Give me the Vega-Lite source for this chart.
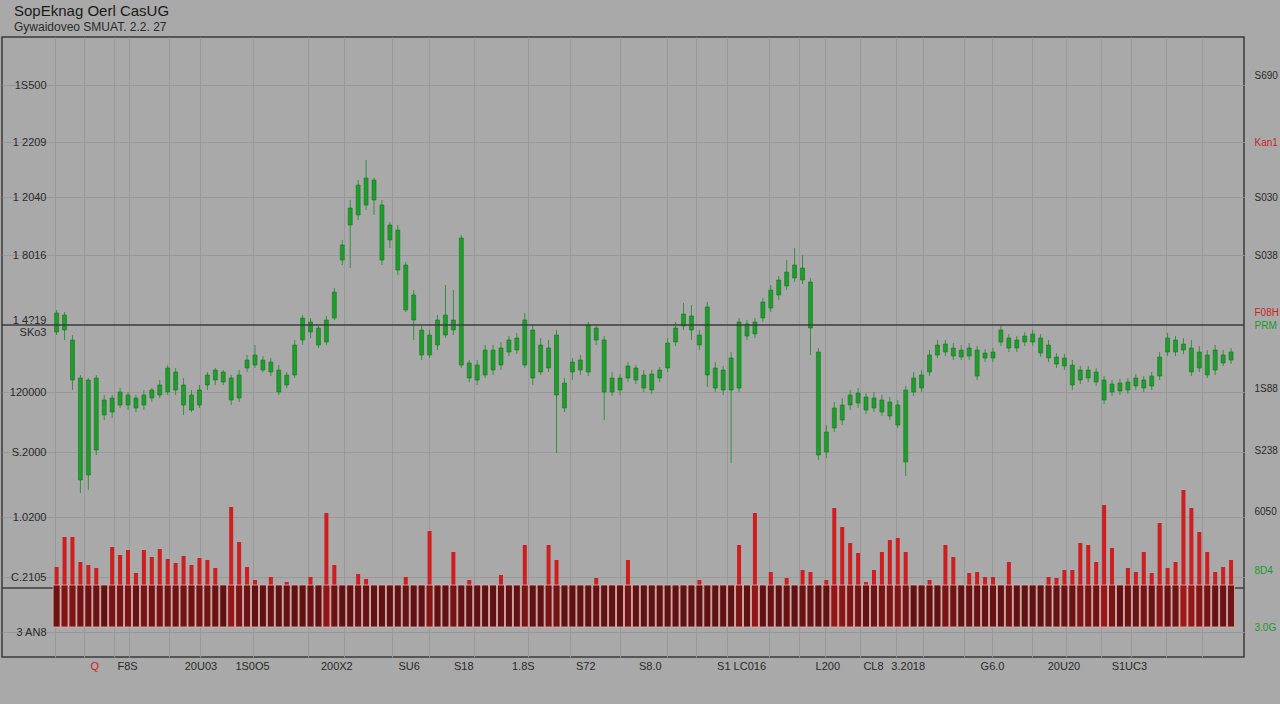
{
  "$schema": "https://vega.github.io/schema/vega-lite/v6.json",
  "width": 1242,
  "height": 620,
  "autosize": "none",
  "padding": {"left": 2, "top": 37, "right": 36, "bottom": 47},
  "background": "#a9a9a9",
  "title": {"text": "SopEknag Oerl CasUG", "subtitle": "Gywaidoveo SMUAT. 2.2. 27", "anchor": "start", "frame": "group", "dx": 12, "offset": 4, "fontSize": 15, "font": "Liberation Sans", "fontWeight": "normal", "color": "#1a1a1a", "subtitleFontSize": 12, "subtitleFont": "Liberation Sans", "subtitleColor": "#2a2a2a", "subtitlePadding": 3},
  "config": {"view": {"stroke": "#3a3a3a", "strokeWidth": 1.5}, "axis": {"labelFont": "Liberation Sans", "labelFontSize": 11, "labelColor": "#2a2a2a", "gridColor": "#999999", "gridWidth": 1}},
  "datasets": {
    "candles": [
      {"i":0,"o":325,"c":344,"h":347,"l":322,"v":60},
      {"i":1,"o":327,"c":342,"h":345,"l":317,"v":90},
      {"i":2,"o":277,"c":317,"h":322,"l":267,"v":90},
      {"i":3,"o":177,"c":279,"h":282,"l":164,"v":65},
      {"i":4,"o":182,"c":277,"h":279,"l":167,"v":62},
      {"i":5,"o":207,"c":279,"h":282,"l":202,"v":59},
      {"i":6,"o":242,"c":257,"h":262,"l":237,"v":42},
      {"i":7,"o":245,"c":259,"h":262,"l":239,"v":80},
      {"i":8,"o":252,"c":265,"h":269,"l":249,"v":72},
      {"i":9,"o":252,"c":262,"h":265,"l":247,"v":77},
      {"i":10,"o":249,"c":259,"h":262,"l":245,"v":54},
      {"i":11,"o":252,"c":262,"h":267,"l":247,"v":77},
      {"i":12,"o":259,"c":267,"h":269,"l":255,"v":70},
      {"i":13,"o":262,"c":272,"h":277,"l":259,"v":78},
      {"i":14,"o":265,"c":289,"h":292,"l":262,"v":68},
      {"i":15,"o":267,"c":285,"h":289,"l":262,"v":64},
      {"i":16,"o":252,"c":272,"h":279,"l":242,"v":71},
      {"i":17,"o":247,"c":262,"h":267,"l":245,"v":62},
      {"i":18,"o":252,"c":267,"h":272,"l":249,"v":69},
      {"i":19,"o":272,"c":282,"h":285,"l":267,"v":67},
      {"i":20,"o":277,"c":287,"h":289,"l":272,"v":59},
      {"i":21,"o":275,"c":285,"h":287,"l":272,"v":42},
      {"i":22,"o":257,"c":279,"h":282,"l":252,"v":120},
      {"i":23,"o":259,"c":282,"h":287,"l":255,"v":85},
      {"i":24,"o":289,"c":297,"h":302,"l":285,"v":60},
      {"i":25,"o":292,"c":302,"h":312,"l":289,"v":47},
      {"i":26,"o":287,"c":297,"h":301,"l":285,"v":42},
      {"i":27,"o":285,"c":295,"h":299,"l":281,"v":50},
      {"i":28,"o":265,"c":287,"h":292,"l":262,"v":42},
      {"i":29,"o":272,"c":282,"h":285,"l":269,"v":45},
      {"i":30,"o":282,"c":312,"h":317,"l":279,"v":42},
      {"i":31,"o":317,"c":339,"h":342,"l":312,"v":42},
      {"i":32,"o":325,"c":335,"h":339,"l":319,"v":50},
      {"i":33,"o":312,"c":329,"h":332,"l":309,"v":42},
      {"i":34,"o":315,"c":337,"h":341,"l":312,"v":114},
      {"i":35,"o":339,"c":365,"h":369,"l":337,"v":62},
      {"i":36,"o":397,"c":412,"h":417,"l":392,"v":42},
      {"i":37,"o":432,"c":449,"h":457,"l":389,"v":42},
      {"i":38,"o":442,"c":472,"h":477,"l":437,"v":53},
      {"i":39,"o":452,"c":479,"h":497,"l":447,"v":48},
      {"i":40,"o":457,"c":477,"h":479,"l":442,"v":42},
      {"i":41,"o":397,"c":452,"h":457,"l":392,"v":42},
      {"i":42,"o":417,"c":432,"h":435,"l":409,"v":42},
      {"i":43,"o":387,"c":427,"h":432,"l":382,"v":42},
      {"i":44,"o":347,"c":392,"h":395,"l":345,"v":50},
      {"i":45,"o":337,"c":362,"h":367,"l":317,"v":42},
      {"i":46,"o":302,"c":327,"h":332,"l":297,"v":42},
      {"i":47,"o":302,"c":322,"h":327,"l":299,"v":96},
      {"i":48,"o":312,"c":337,"h":342,"l":307,"v":42},
      {"i":49,"o":322,"c":342,"h":372,"l":319,"v":42},
      {"i":50,"o":327,"c":337,"h":367,"l":322,"v":75},
      {"i":51,"o":292,"c":419,"h":422,"l":289,"v":42},
      {"i":52,"o":279,"c":294,"h":297,"l":275,"v":47},
      {"i":53,"o":277,"c":292,"h":297,"l":272,"v":42},
      {"i":54,"o":282,"c":307,"h":312,"l":279,"v":42},
      {"i":55,"o":287,"c":307,"h":312,"l":282,"v":42},
      {"i":56,"o":292,"c":309,"h":315,"l":287,"v":52},
      {"i":57,"o":305,"c":317,"h":321,"l":301,"v":42},
      {"i":58,"o":307,"c":319,"h":324,"l":303,"v":42},
      {"i":59,"o":292,"c":337,"h":344,"l":289,"v":82},
      {"i":60,"o":279,"c":327,"h":332,"l":272,"v":42},
      {"i":61,"o":285,"c":312,"h":319,"l":282,"v":42},
      {"i":62,"o":289,"c":309,"h":317,"l":285,"v":82},
      {"i":63,"o":262,"c":322,"h":327,"l":204,"v":67},
      {"i":64,"o":249,"c":274,"h":279,"l":245,"v":42},
      {"i":65,"o":285,"c":295,"h":299,"l":277,"v":42},
      {"i":66,"o":287,"c":297,"h":302,"l":282,"v":42},
      {"i":67,"o":285,"c":332,"h":335,"l":281,"v":42},
      {"i":68,"o":317,"c":329,"h":332,"l":312,"v":49},
      {"i":69,"o":265,"c":317,"h":321,"l":237,"v":42},
      {"i":70,"o":265,"c":279,"h":285,"l":261,"v":42},
      {"i":71,"o":267,"c":279,"h":283,"l":262,"v":42},
      {"i":72,"o":279,"c":291,"h":295,"l":275,"v":67},
      {"i":73,"o":277,"c":289,"h":292,"l":273,"v":42},
      {"i":74,"o":269,"c":282,"h":287,"l":265,"v":42},
      {"i":75,"o":267,"c":283,"h":287,"l":263,"v":42},
      {"i":76,"o":279,"c":287,"h":290,"l":275,"v":42},
      {"i":77,"o":289,"c":314,"h":319,"l":285,"v":42},
      {"i":78,"o":315,"c":329,"h":335,"l":311,"v":42},
      {"i":79,"o":331,"c":343,"h":354,"l":327,"v":42},
      {"i":80,"o":327,"c":341,"h":352,"l":317,"v":42},
      {"i":81,"o":312,"c":322,"h":327,"l":307,"v":47},
      {"i":82,"o":282,"c":350,"h":355,"l":270,"v":42},
      {"i":83,"o":269,"c":289,"h":295,"l":265,"v":42},
      {"i":84,"o":267,"c":287,"h":291,"l":262,"v":42},
      {"i":85,"o":267,"c":299,"h":305,"l":194,"v":42},
      {"i":86,"o":269,"c":335,"h":339,"l":265,"v":82},
      {"i":87,"o":321,"c":333,"h":337,"l":317,"v":42},
      {"i":88,"o":323,"c":335,"h":339,"l":319,"v":114},
      {"i":89,"o":339,"c":355,"h":359,"l":335,"v":42},
      {"i":90,"o":349,"c":367,"h":372,"l":345,"v":55},
      {"i":91,"o":362,"c":377,"h":381,"l":357,"v":42},
      {"i":92,"o":371,"c":385,"h":397,"l":367,"v":49},
      {"i":93,"o":379,"c":392,"h":409,"l":375,"v":42},
      {"i":94,"o":377,"c":389,"h":402,"l":373,"v":57},
      {"i":95,"o":329,"c":375,"h":379,"l":302,"v":55},
      {"i":96,"o":202,"c":305,"h":309,"l":197,"v":42},
      {"i":97,"o":205,"c":225,"h":232,"l":199,"v":47},
      {"i":98,"o":229,"c":249,"h":255,"l":225,"v":119},
      {"i":99,"o":237,"c":252,"h":259,"l":232,"v":100},
      {"i":100,"o":252,"c":262,"h":267,"l":247,"v":84},
      {"i":101,"o":254,"c":264,"h":269,"l":249,"v":74},
      {"i":102,"o":247,"c":260,"h":264,"l":243,"v":45},
      {"i":103,"o":249,"c":259,"h":265,"l":245,"v":57},
      {"i":104,"o":245,"c":257,"h":262,"l":241,"v":75},
      {"i":105,"o":241,"c":255,"h":260,"l":237,"v":87},
      {"i":106,"o":232,"c":252,"h":257,"l":229,"v":89},
      {"i":107,"o":195,"c":267,"h":271,"l":181,"v":75},
      {"i":108,"o":265,"c":279,"h":285,"l":261,"v":42},
      {"i":109,"o":269,"c":282,"h":287,"l":265,"v":42},
      {"i":110,"o":285,"c":302,"h":307,"l":281,"v":47},
      {"i":111,"o":302,"c":312,"h":317,"l":299,"v":42},
      {"i":112,"o":305,"c":313,"h":317,"l":301,"v":82},
      {"i":113,"o":301,"c":309,"h":314,"l":297,"v":70},
      {"i":114,"o":300,"c":307,"h":312,"l":297,"v":42},
      {"i":115,"o":301,"c":309,"h":314,"l":297,"v":54},
      {"i":116,"o":281,"c":307,"h":311,"l":277,"v":55},
      {"i":117,"o":299,"c":304,"h":308,"l":295,"v":50},
      {"i":118,"o":299,"c":305,"h":309,"l":295,"v":50},
      {"i":119,"o":315,"c":327,"h":332,"l":311,"v":42},
      {"i":120,"o":309,"c":319,"h":323,"l":305,"v":65},
      {"i":121,"o":309,"c":317,"h":321,"l":305,"v":42},
      {"i":122,"o":315,"c":321,"h":325,"l":311,"v":42},
      {"i":123,"o":315,"c":323,"h":327,"l":311,"v":42},
      {"i":124,"o":304,"c":319,"h":323,"l":300,"v":42},
      {"i":125,"o":299,"c":312,"h":317,"l":295,"v":50},
      {"i":126,"o":293,"c":300,"h":304,"l":289,"v":49},
      {"i":127,"o":291,"c":299,"h":303,"l":287,"v":57},
      {"i":128,"o":272,"c":292,"h":297,"l":267,"v":57},
      {"i":129,"o":277,"c":287,"h":291,"l":273,"v":84},
      {"i":130,"o":279,"c":287,"h":291,"l":275,"v":82},
      {"i":131,"o":275,"c":285,"h":289,"l":271,"v":65},
      {"i":132,"o":257,"c":277,"h":281,"l":253,"v":122},
      {"i":133,"o":265,"c":273,"h":277,"l":261,"v":79},
      {"i":134,"o":266,"c":274,"h":278,"l":262,"v":42},
      {"i":135,"o":267,"c":275,"h":279,"l":263,"v":59},
      {"i":136,"o":271,"c":279,"h":283,"l":267,"v":55},
      {"i":137,"o":269,"c":277,"h":281,"l":265,"v":75},
      {"i":138,"o":271,"c":281,"h":285,"l":267,"v":54},
      {"i":139,"o":281,"c":300,"h":305,"l":277,"v":104},
      {"i":140,"o":305,"c":319,"h":324,"l":301,"v":59},
      {"i":141,"o":305,"c":317,"h":321,"l":301,"v":65},
      {"i":142,"o":307,"c":313,"h":319,"l":303,"v":137},
      {"i":143,"o":285,"c":309,"h":317,"l":281,"v":119},
      {"i":144,"o":289,"c":305,"h":311,"l":285,"v":95},
      {"i":145,"o":282,"c":302,"h":307,"l":279,"v":75},
      {"i":146,"o":287,"c":307,"h":312,"l":282,"v":55},
      {"i":147,"o":294,"c":302,"h":307,"l":291,"v":60},
      {"i":148,"o":297,"c":305,"h":309,"l":293,"v":67}
    ]
  },
  "layer": [
    {
      "layer": [
        {
          "data": {"name": "candles"},
          "mark": {"type": "rule", "color": "#3a8e40", "strokeWidth": 1},
          "encoding": {
            "x": {"field": "i", "type": "quantitative", "scale": {"domain": [-6.25, 149], "nice": false, "zero": false},
              "axis": {"title": null, "grid": false, "ticks": false, "domain": false, "labelPadding": 3, "labelFlush": false, "labelOverlap": false,
                "values": [4.75, 8.875, 18.125, 24.625, 35.25, 44.375, 51.25, 58.75, 66.625, 74.75, 86.25, 97.125, 102.875, 107.25, 117.875, 126.875, 135.125],
                "labelExpr": "['Q','F8S','20U03','1S0O5','200X2','SU6','S18','1.8S','S72','S8.0','S1 LC016','L200','CL8','3.2018','G6.0','20U20','S1UC3'][indexof([4.75, 8.875, 18.125, 24.625, 35.25, 44.375, 51.25, 58.75, 66.625, 74.75, 86.25, 97.125, 102.875, 107.25, 117.875, 126.875, 135.125], datum.value)]",
                "labelColor": {"condition": {"test": "datum.value == 4.75", "value": "#d02020"}, "value": "#2a2a2a"}}},
            "y": {"field": "l", "type": "quantitative", "scale": {"domain": [0, 620], "nice": false, "zero": false},
              "axis": {"title": null, "grid": true, "ticks": false, "domain": false, "labelPadding": -44, "labelAlign": "right", "labelOverlap": false, "labelFlush": false,
                "values": [572, 515, 460, 402, 337, 325, 265, 205, 140, 80, 25],
                "labelExpr": "['1S500','1 2209','1 2040','1 8016','1 4?19','SKo3','120000','S.2000','1.0200','C.2105','3 AN8'][indexof([572, 515, 460, 402, 337, 325, 265, 205, 140, 80, 25], datum.value)]",
                "gridColor": {"condition": {"test": "datum.value == 337 || datum.value == 325", "value": "transparent"}, "value": "#999999"}}},
            "y2": {"field": "h"}
          }
        },
        {
          "data": {"name": "candles"},
          "mark": {"type": "bar", "width": 4, "color": "#1f9c2b", "stroke": "#137a1e", "strokeWidth": 0.6},
          "encoding": {
            "x": {"field": "i", "type": "quantitative"},
            "y": {"field": "o", "type": "quantitative"},
            "y2": {"field": "c"}
          }
        },
        {
          "data": {"values": [{"p": 332}, {"p": 69}]},
          "mark": {"type": "rule", "color": "#3d3d3d", "strokeWidth": 1.5},
          "encoding": {
            "y": {"field": "p", "type": "quantitative"}
          }
        }
      ]
    },
    {
      "data": {"name": "candles"},
      "layer": [
        {
          "mark": {"type": "bar", "width": 4, "color": "#d01e1e"},
          "encoding": {
            "x": {"field": "i", "type": "quantitative", "scale": {"domain": [-6.25, 149], "nice": false, "zero": false},
              "axis": {"orient": "top", "title": null, "grid": true, "labels": false, "ticks": false, "domain": false,
                "values": [-0.25, 3.5, 7.25, 9.125, 14.125, 18.125, 24.75, 31.625, 36.25, 42.25, 46.875, 52.625, 59.375, 64.75, 71, 76.875, 80.625, 84.5, 89.75, 93.5, 96.875, 101.25, 105.75, 109.125, 114.375, 117.875, 122.875, 127.25, 131.625, 135.375, 139.75, 144.375]}},
            "y": {"field": "v", "type": "quantitative", "scale": {"domain": [-30, 590], "nice": false, "zero": false},
              "axis": {"orient": "right", "title": null, "grid": false, "ticks": false, "domain": false, "labelPadding": 10, "labelAlign": "left", "labelOverlap": false, "labelFlush": false, "labelFontSize": 10,
                "values": [552, 485, 430, 372, 315, 302, 239, 177, 116, 57, 0],
                "labelExpr": "['S690','Kan1','S030','S038','F08H','PRM','1S88','S238','6050','8D4','3.0G'][indexof([552, 485, 430, 372, 315, 302, 239, 177, 116, 57, 0], datum.value)]",
                "labelColor": {"condition": [{"test": "datum.value == 485 || datum.value == 315", "value": "#cc1f1f"}, {"test": "datum.value == 302 || datum.value == 57 || datum.value == 0", "value": "#1a9a2a"}], "value": "#2a2a2a"}}},
            "y2": {"datum": 0}
          }
        },
        {
          "mark": {"type": "bar", "width": 7, "stroke": "#e2b4b4", "strokeWidth": 0.8},
          "encoding": {
            "x": {"field": "i", "type": "quantitative"},
            "y": {"datum": 42},
            "y2": {"datum": 0},
            "color": {"field": "v", "type": "quantitative", "scale": {"range": ["#601212", "#a01818"]}, "legend": null}
          }
        }
      ]
    }
  ],
  "resolve": {"scale": {"x": "independent", "y": "independent"}}
}
